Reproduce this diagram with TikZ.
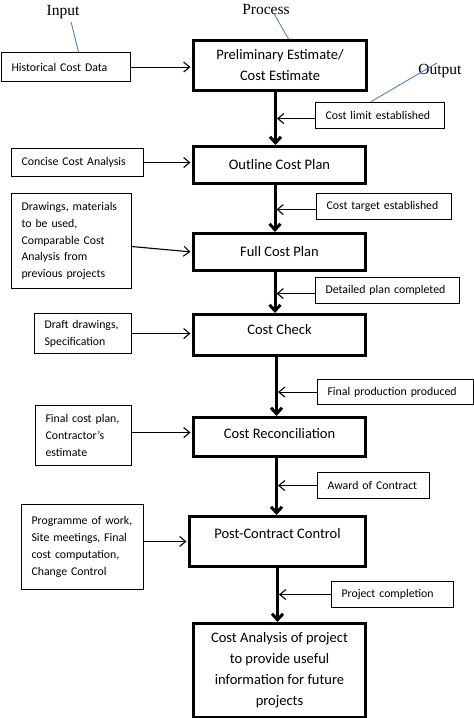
\documentclass[tikz,border=0pt]{standalone}
\usepackage{fontspec}
\setmainfont{Carlito}
\newfontfamily\labelfont{Liberation Serif}
\usetikzlibrary{arrows.meta, positioning}
\definecolor{calloutblue}{RGB}{79,129,189}

\begin{document}
\begin{tikzpicture}[x=1pt, y=-1pt,
    stage/.style={draw, line width=3pt, inner sep=0pt, anchor=north west, align=center,
      font=\fontsize{14.5}{21}\selectfont},
    infobox/.style={draw, line width=1.1pt, inner xsep=10pt, inner ysep=0pt, anchor=north west,
      align=left, font=\fontsize{11.8}{16.8}\selectfont},
    feed/.style={line width=1.1pt, shorten >=1.5pt, -{Straight Barb[length=6pt,width=10pt]}},
    flow/.style={line width=3pt, -{Straight Barb[length=6pt,width=11pt]}},
    callout/.style={draw=calloutblue, line width=0.9pt},
    heading/.style={font=\labelfont\fontsize{15.5}{18}\selectfont}]
    \useasboundingbox (0,0) rectangle (474,718);

    % Column headings
    \node[heading] (inputLabel) at (63,11.6) {Input};
    \node[heading] (processLabel) at (266,9.9) {Process};
    \node[heading] (outputLabel) at (440,70.6) {Output};

    % Process stages
    \node[stage, minimum width=173pt, minimum height=50pt]
    (prelimEstimate) at (192,39) {Preliminary Estimate/\\Cost Estimate};
    \node[stage, minimum width=172pt, minimum height=37pt]
    (outlinePlan) at (192,145) {Outline Cost Plan};
    \node[stage, minimum width=172pt, minimum height=37pt]
    (fullPlan) at (192,232) {Full Cost Plan};
    \node[stage, minimum width=172pt, text height=19.7pt, text depth=21.3pt]
    (costCheck) at (192,313) {Cost Check};
    \node[stage, minimum width=172pt, text height=20.7pt, text depth=18.3pt]
    (costRecon) at (192,416) {Cost Reconciliation};
    \node[stage, minimum width=176pt, text height=21.7pt, text depth=28.3pt]
    (postControl) at (188,515) {Post-Contract Control};
    \node[stage, minimum width=172pt, minimum height=94pt]
    (finalAnalysis) at (192,622) {Cost Analysis of project\\to provide useful\\information for future\\projects};

    % Inputs
    \node[infobox, text width=109pt, minimum height=29pt]
    (historicalData) at (1,52) {Historical Cost Data};
    \node[infobox, text width=112pt, minimum height=28pt]
    (conciseAnalysis) at (11,148) {Concise Cost Analysis};
    \node[infobox, text width=100pt, minimum height=95pt]
    (drawingsData) at (11,193) {Drawings, materials\\to be used,\\Comparable Cost\\Analysis from\\previous projects};
    \node[infobox, text width=77pt, minimum height=40pt]
    (draftDrawings) at (34,313) {Draft drawings,\\Specification};
    \node[infobox, text width=76pt, minimum height=60pt]
    (finalCostPlan) at (35,405) {Final cost plan,\\Contractor’s\\estimate};
    \node[infobox, text width=102pt, minimum height=85pt]
    (programmeWork) at (21,504) {Programme of work,\\Site meetings, Final\\cost computation,\\Change Control};

    % Outputs
    \node[infobox, text width=109pt, minimum height=26pt]
    (costLimit) at (315,102) {Cost limit established};
    \node[infobox, text width=115pt, minimum height=26pt]
    (costTarget) at (316,193) {Cost target established};
    \node[infobox, text width=124pt, minimum height=26pt]
    (detailedPlan) at (315,277) {Detailed plan completed};
    \node[infobox, text width=136pt, minimum height=25pt]
    (finalProduction) at (317,379) {Final production produced};
    \node[infobox, text width=92pt, minimum height=26pt]
    (awardContract) at (317,472) {Award of Contract};
    \node[infobox, text width=102pt, minimum height=26pt]
    (projectCompletion) at (331,581) {Project completion};

    % Main flow
    \draw[flow] ([xshift=-4.5pt]prelimEstimate.south) coordinate (spineA) -- (spineA |- outlinePlan.north);
    \draw[flow] ([xshift=-4.5pt]outlinePlan.south) coordinate (spineB) -- (spineB |- fullPlan.north);
    \draw[flow] ([xshift=-4.5pt]fullPlan.south) coordinate (spineC) -- (spineC |- costCheck.north);
    \draw[flow] ([xshift=-3pt]costCheck.south) coordinate (spineD) -- (spineD |- costRecon.north);
    \draw[flow] ([xshift=-3pt]costRecon.south) coordinate (spineE) -- (spineE |- postControl.north);
    \draw[flow] (postControl.south) coordinate (spineF) -- (spineF |- finalAnalysis.north);

    % Inputs into the stages
    \draw[feed] (historicalData.east) -- (historicalData.east -| prelimEstimate.west);
    \draw[feed] (conciseAnalysis.east) -- (conciseAnalysis.east -| outlinePlan.west);
    \draw[feed] ([yshift=-5.5pt]drawingsData.east) -- (fullPlan.west);
    \draw[feed] (draftDrawings.east) -- (draftDrawings.east -| costCheck.west);
    \draw[feed] ([yshift=3pt]finalCostPlan.east) coordinate (planTail) -- (planTail -| costRecon.west);
    \draw[feed] (programmeWork.east |- postControl.west) -- (postControl.west);

    % Outputs onto the flow
    \draw[feed] ([yshift=-3pt]costLimit.west) coordinate (limitTail) -- (limitTail -| spineA);
    \draw[feed] ([yshift=-3pt]costTarget.west) coordinate (targetTail) -- (targetTail -| spineB);
    \draw[feed] ([yshift=-3pt]detailedPlan.west) coordinate (detailTail) -- (detailTail -| spineC);
    \draw[feed] (finalProduction.west) -- (finalProduction.west -| spineD);
    \draw[feed] (awardContract.west) -- (awardContract.west -| spineE);
    \draw[feed] (projectCompletion.west) -- (projectCompletion.west -| spineF);

    % Blue callout lines
    \draw[callout] ([xshift=8pt]inputLabel.south) -- ([xshift=12.5pt]historicalData.north);
    \draw[callout] ([xshift=8pt,yshift=5pt]processLabel.south) -- ([xshift=8.5pt]prelimEstimate.north);
    \draw[callout] ([xshift=-3pt,yshift=7.6pt]outputLabel.center) -- ([xshift=-9.5pt]costLimit.north);
\end{tikzpicture}
\end{document}
